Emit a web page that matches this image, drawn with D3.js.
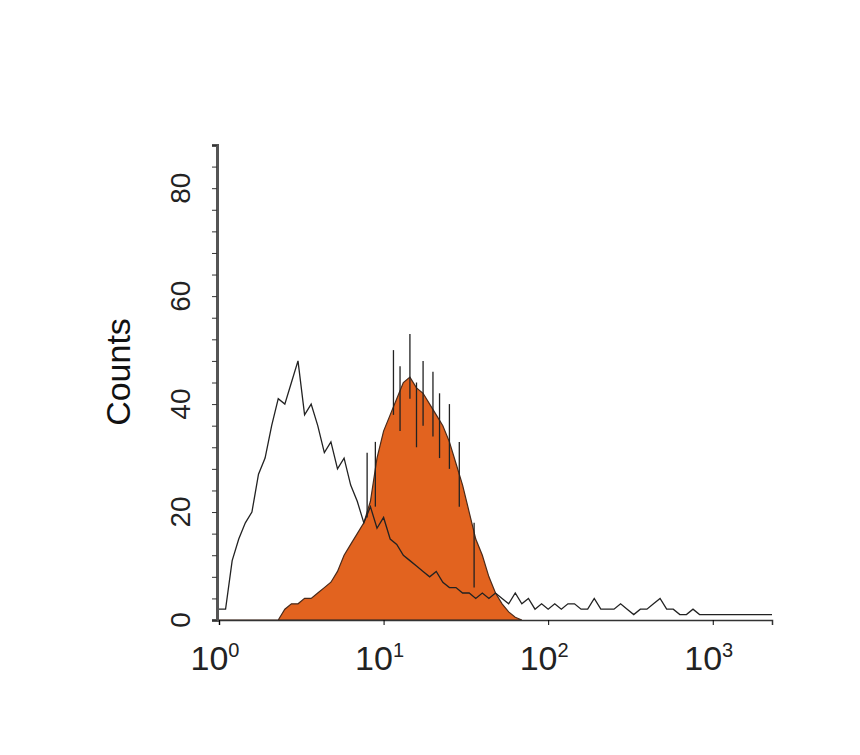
<!DOCTYPE html><html><head><meta charset="utf-8"><script src="https://d3js.org/d3.v7.min.js"></script>
<style>body{margin:0;background:#fff}</style></head><body><svg id="c" width="860" height="755"></svg>
<script>
const step=0.04;
const control=[2,2,11,15,18,20,27,30,36,41,40,44,48,38,40,36,31,33,28,30,25,22,18,21,17,19,15,14,12,11,10,9,8,9,7,6,6,5,5,4,5,4,5,4,3,5,3,4,2,3,2,3,2,3,3,2,2,4,2,2,2,3,2,1,2,2,3,4,2,2,1,1,2,1,1,1,1,1,1,1,1,1,1,1,1];
const sample=[0,0,0,0,0,0,0,0,0,0,2,3,3,4,4,5,6,7,9,12,14,16,18,22,30,35,38,41,44,45,43,42,40,38,36,33,29,25,20,15,12,8,5,3,1.5,0.5,0];
const spikes=[[0.9,31],[0.95,33],[1.06,50],[1.1,47],[1.16,53],[1.2,44],[1.24,48],[1.3,46],[1.34,42],[1.4,40],[1.46,33],[1.55,18]];
const yTicks=[0,20,40,60,80];
const xTicks=[1,10,100,1000];
const xLabels=["0","1","2","3"];

const svg=d3.select("#c");
const x=d3.scaleLog().domain([1,Math.pow(10,3.36)]).range([219,772]);
const y=d3.scaleLinear().domain([0,88]).range([620,145]);
const lx=i=>x(Math.pow(10,i*step));

const sData=sample.map((v,i)=>[i,v]);
svg.append("path").datum(sData)
 .attr("d",d3.area().x(d=>lx(d[0])).y0(y(0)).y1(d=>y(d[1])))
 .attr("fill","#e2631f").attr("stroke","#4a2a1a").attr("stroke-width",1.2);
svg.selectAll(".sp").data(spikes).join("line")
 .attr("x1",d=>x(Math.pow(10,d[0]))).attr("x2",d=>x(Math.pow(10,d[0])))
 .attr("y1",d=>y(d[1]-12)).attr("y2",d=>y(d[1]))
 .attr("stroke","#222").attr("stroke-width",1.3);
svg.append("path").datum(control.map((v,i)=>[i,v]))
 .attr("d",d3.line().x(d=>lx(d[0])).y(d=>y(d[1])))
 .attr("fill","none").attr("stroke","#222").attr("stroke-width",1.3);

const ya=svg.append("g").attr("transform","translate(217,0)")
 .call(d3.axisLeft(y).tickValues(d3.range(0,89,4)).tickSize(5).tickFormat(""));
ya.select(".domain").attr("stroke","#555").attr("stroke-width",3);
ya.selectAll(".tick line").attr("stroke","#333");
const xa=svg.append("g").attr("transform","translate(0,620)")
 .call(d3.axisBottom(x).tickValues(xTicks).tickSize(5).tickFormat(""));
xa.select(".domain").attr("stroke","#333").attr("stroke-width",1.5);

svg.selectAll(".yl").data(yTicks).join("text")
 .attr("transform",d=>`translate(190,${y(d)}) rotate(-90)`)
 .attr("text-anchor","middle").attr("font-family","Liberation Sans Narrow, Liberation Sans").attr("font-size",28).attr("fill","#222")
 .text(d=>d);
const xl=svg.selectAll(".xl").data(xTicks).join("text")
 .attr("x",d=>x(d)-4).attr("y",670).attr("text-anchor","middle")
 .attr("font-family","Liberation Sans Narrow, Liberation Sans").attr("font-size",34).attr("fill","#222");
xl.append("tspan").text("10");
xl.append("tspan").attr("dy",-13).attr("font-size",20).text((d,i)=>xLabels[i]);
svg.append("text").attr("transform","translate(130,372) rotate(-90)").attr("text-anchor","middle")
 .attr("font-family","Liberation Sans Narrow, Liberation Sans").attr("font-size",34).attr("fill","#111").text("Counts");
</script></body></html>
